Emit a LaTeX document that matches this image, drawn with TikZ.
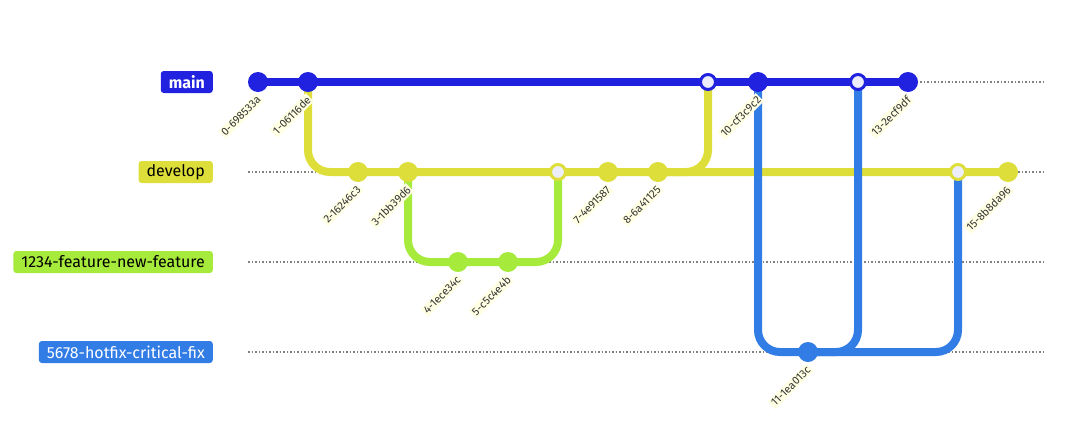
\documentclass[tikz,border=0pt]{standalone}
\usepackage{fontspec}
\setmainfont{Fira Sans}
\usetikzlibrary{positioning, backgrounds}
\definecolor{mainblue}{HTML}{2121E0}
\definecolor{devyellow}{HTML}{DEDE3A}
\definecolor{featgreen}{HTML}{A6EA3C}
\definecolor{fixblue}{HTML}{327CE6}
\definecolor{mergefill}{HTML}{ECECFA}
\definecolor{shabg}{HTML}{FFFFE4}
\tikzstyle{commit} = [circle, minimum size=20pt, inner sep=0pt]
\tikzstyle{merge} = [circle, minimum size=15pt, inner sep=0pt, fill=mergefill, line width=3pt]
\tikzstyle{branch} = [line width=8pt, rounded corners=22pt]
\tikzstyle{lane} = [gray, line width=1.2pt, dash pattern=on 1.5pt off 2pt]
\tikzstyle{tag} = [rounded corners=3pt, minimum height=22pt, inner xsep=8pt, inner ysep=1pt,
                   anchor=east, font=\fontsize{16}{17}\selectfont]
\tikzstyle{sha} = [fill=shabg, inner sep=1.5pt, rotate=45, anchor=east, text=black!80,
                   font=\fontsize{11}{12}\selectfont]

\begin{document}
\begin{tikzpicture}[x=1pt, y=-1pt]
    \useasboundingbox (0,0) rectangle (1085,437);

    % branch names
    \node[tag, fill=mainblue, text=white, font=\fontsize{16}{17}\selectfont\bfseries] (tmain) at (213,82) {main};
    \node[tag, fill=devyellow] (tdev) at (213,172) {develop};
    \node[tag, fill=featgreen] (tfeat) at (213,262) {1234-feature-new-feature};
    \node[tag, fill=fixblue, text=white] (tfix) at (213,352) {5678-hotfix-critical-fix};

    % commits on main
    \node[commit, fill=mainblue] (c0) at (258,82) {};
    \node[commit, fill=mainblue] (c1) at (308,82) {};
    \node[merge, draw=mainblue] (m9) at (708,82) {};
    \node[commit, fill=mainblue] (c10) at (758,82) {};
    \node[merge, draw=mainblue] (m12) at (858,82) {};
    \node[commit, fill=mainblue] (c13) at (908,82) {};
    % commits on develop
    \node[commit, fill=devyellow] (c2) at (358,172) {};
    \node[commit, fill=devyellow] (c3) at (408,172) {};
    \node[merge, draw=devyellow] (m6) at (558,172) {};
    \node[commit, fill=devyellow] (c7) at (608,172) {};
    \node[commit, fill=devyellow] (c8) at (658,172) {};
    \node[merge, draw=devyellow] (m14) at (958,172) {};
    \node[commit, fill=devyellow] (c15) at (1008,172) {};
    % feature and hotfix
    \node[commit, fill=featgreen] (c4) at (458,262) {};
    \node[commit, fill=featgreen] (c5) at (508,262) {};
    \node[commit, fill=fixblue] (c11) at (808,352) {};

    \begin{scope}[on background layer]
        \fill[white] (0,0) rectangle (1085,437);
        \draw[lane] (248,82) -- (1045,82);
        \draw[lane] (248,172) -- (1045,172);
        \draw[lane] (248,262) -- (1045,262);
        \draw[lane] (248,352) -- (1045,352);

        \draw[branch, mainblue] (c0.center) -- (c13.center);
        \draw[branch, devyellow] (c1.center) |- (c15.center);
        \draw[branch, devyellow] (c8.center) -| (m9.center);
        \draw[branch, featgreen] (c3.center) |- (c4.center) -- (c5.center) -| (m6.center);
        \draw[branch, fixblue] (c10.center) |- (c11.center) -| (m12.center);
        \draw[branch, fixblue] (c11.center) -| (m14.center);
    \end{scope}

    % commit ids
    \node[sha] (l0) at ([shift={(2,15)}]c0.center) {0-698533a};
    \node[sha] (l1) at ([shift={(2,15)}]c1.center) {1-06116de};
    \node[sha] (l2) at ([shift={(2,15)}]c2.center) {2-16246c3};
    \node[sha] (l3) at ([shift={(2,15)}]c3.center) {3-1bb39d6};
    \node[sha] (l4) at ([shift={(2,15)}]c4.center) {4-1ece34c};
    \node[sha] (l5) at ([shift={(2,15)}]c5.center) {5-c5c4e4b};
    \node[sha] (l7) at ([shift={(2,15)}]c7.center) {7-4e91587};
    \node[sha] (l8) at ([shift={(2,15)}]c8.center) {8-6a41125};
    \node[sha] (l10) at ([shift={(2,15)}]c10.center) {10-cf3c9c2};
    \node[sha] (l11) at ([shift={(2,15)}]c11.center) {11-1ea013c};
    \node[sha] (l13) at ([shift={(2,15)}]c13.center) {13-2ecf9df};
    \node[sha] (l15) at ([shift={(2,15)}]c15.center) {15-8b8da96};
\end{tikzpicture}
\end{document}
